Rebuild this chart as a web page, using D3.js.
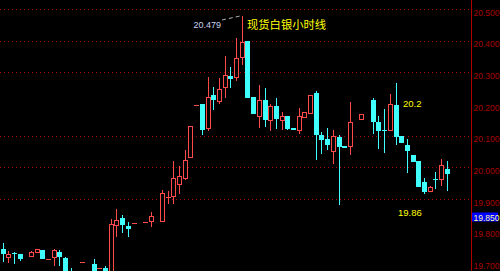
<!DOCTYPE html>
<html>
<head>
<meta charset="utf-8">
<script src="https://cdn.jsdelivr.net/npm/d3@7"></script>
<style>
  html, body { margin: 0; padding: 0; background: #000; overflow: hidden; }
  svg { display: block; }
</style>
</head>
<body>
<div class="kline"></div>
<script>
// hourly candles, null = bar not visible in the picture
const opens  = [19.742,19.717,19.731,19.727,null,19.721,19.732,19.739,19.710,19.717,
                19.733,19.714,19.660,19.650,19.701,19.660,19.695,19.681,19.682,19.650,
                19.818,19.840,19.815,19.823,null,19.827,19.831,null,19.831,19.905,
                19.910,19.947,19.966,20.033,20.196,20.200,20.124,20.228,20.210,20.254,
                20.288,20.285,20.348,20.399,20.222,20.162,20.213,20.150,20.194,20.150,
                20.162,20.124,20.118,20.158,20.171,20.235,20.102,20.090,20.052,20.096,
                20.067,20.067,null,20.152,null,20.213,20.143,20.118,20.118,20.197,
                20.099,20.071,20.039,20.020,19.954,19.925,19.964,19.963,19.995];
const highs  = [19.761,19.736,19.733,19.727,null,19.735,19.743,19.739,19.711,19.742,
                19.739,19.717,19.682,19.665,19.702,19.668,19.711,19.682,19.689,19.837,
                19.868,19.850,19.827,19.824,null,19.828,19.859,null,19.928,19.925,
                20.020,20.004,20.055,20.131,20.197,20.200,20.285,20.254,20.282,20.352,
                20.317,20.408,20.479,20.400,20.223,20.260,20.251,20.200,20.219,20.175,
                20.163,20.124,20.187,20.174,20.227,20.241,20.112,20.124,20.118,20.102,
                20.067,20.206,null,20.168,null,20.219,20.162,20.184,20.232,20.266,
                20.099,20.090,20.039,20.020,19.966,19.941,19.985,20.026,20.020];
const lows   = [19.701,19.698,19.695,19.704,null,19.720,19.731,19.710,19.710,19.689,
                19.689,19.640,19.630,19.640,19.701,19.640,19.645,19.681,19.655,19.645,
                19.780,19.793,19.780,19.823,null,19.827,19.812,null,19.831,19.884,
                19.884,19.916,19.960,20.033,20.196,20.102,20.115,20.181,20.200,20.219,
                20.251,20.273,20.323,20.218,20.167,20.124,20.127,20.115,20.121,20.118,
                20.118,20.118,20.105,20.158,20.171,20.023,20.042,20.055,20.011,19.881,
                20.061,20.039,null,20.152,null,20.105,20.058,20.045,20.117,20.071,
                20.077,19.982,20.017,19.938,19.916,19.925,19.932,19.941,19.925];
const closes = [19.726,19.726,19.729,19.711,null,19.734,19.742,19.711,19.711,19.739,
                19.717,19.650,19.640,19.660,19.702,19.650,19.650,19.682,19.660,19.821,
                19.834,19.818,19.805,19.824,null,19.828,19.846,null,19.919,19.906,
                19.966,19.973,20.023,20.131,20.197,20.118,20.222,20.213,20.247,20.292,
                20.279,20.345,20.396,20.219,20.168,20.213,20.150,20.194,20.153,20.162,
                20.121,20.118,20.162,20.174,20.227,20.102,20.086,20.071,20.099,20.064,
                20.061,20.143,null,20.168,null,20.143,20.115,20.117,20.200,20.096,
                20.077,20.052,20.017,19.938,19.922,19.938,19.962,20.007,19.979];

const tickValues = [20.5, 20.4, 20.3, 20.2, 20.1, 20.0, 19.9, 19.8, 19.7];
const gridValues = [20.5, 20.4, 20.3, 20.1, 20.0, 19.9];
const title = "现货白银小时线";
const highLabel = "20.479";
const noteHigh = "20.2";
const noteLow = "19.86";
const currentPrice = 19.850;

const width = 500, height = 271;
const upColor = "#ff4a4a", downColor = "#40ffff";
const axisX = 471;

const candles = opens.map((o, i) => ({i, o, h: highs[i], l: lows[i], c: closes[i]}))
    .filter(d => d.o !== null);

const svg = d3.select(".kline")
    .append("svg")
    .attr("width", width)
    .attr("height", height)
    .style("background", "#000");

const x = d3.scaleLinear().domain([0, opens.length - 1]).range([2.5, 446.8]);
const y = d3.scaleLinear().domain([19.7, 20.5]).range([262.4, 9]);

// dotted grid
svg.append("g")
    .selectAll("line")
    .data(gridValues)
    .join("line")
    .attr("x1", 0)
    .attr("x2", axisX - 1)
    .attr("y1", d => Math.round(y(d)) + 0.5)
    .attr("y2", d => Math.round(y(d)) + 0.5)
    .attr("stroke", "#a00000")
    .attr("stroke-width", 1)
    .attr("stroke-dasharray", "1,3");

// price axis on the right
const axis = svg.append("g")
    .attr("transform", `translate(${axisX + 0.5},0)`)
    .call(d3.axisRight(y).tickValues(tickValues).tickSize(0).tickPadding(2).tickFormat(d3.format(".3f")));
axis.select(".domain").attr("stroke", "#b00000").attr("d", `M0,0V${height}`);
axis.selectAll("text")
    .attr("fill", "#a80000")
    .attr("dy", "0.72em")
    .style("font-family", "Liberation Sans, Arial, sans-serif")
    .style("font-size", "8.5px");

const plot = svg.append("g").attr("shape-rendering", "crispEdges");

// wicks
plot.selectAll(".wick")
    .data(candles)
    .join("line")
    .attr("class", "wick")
    .attr("x1", d => Math.round(x(d.i)) + 0.5)
    .attr("x2", d => Math.round(x(d.i)) + 0.5)
    .attr("y1", d => y(d.h))
    .attr("y2", d => y(d.l))
    .attr("stroke", d => d.c >= d.o ? upColor : downColor)
    .attr("stroke-width", 1);

// falling candles: filled
plot.selectAll(".down")
    .data(candles.filter(d => d.c < d.o))
    .join("rect")
    .attr("class", "down")
    .attr("x", d => Math.round(x(d.i)) - 2)
    .attr("width", 5)
    .attr("y", d => y(d.o))
    .attr("height", d => Math.max(1, y(d.c) - y(d.o)))
    .attr("fill", downColor);

// rising candles: hollow, black inside hides the wick
plot.selectAll(".up")
    .data(candles.filter(d => d.c >= d.o))
    .join("rect")
    .attr("class", "up")
    .attr("x", d => Math.round(x(d.i)) - 1.5)
    .attr("width", 4)
    .attr("y", d => Math.round(y(d.c)) + 0.5)
    .attr("height", d => Math.max(0.01, Math.round(y(d.o)) - Math.round(y(d.c))))
    .attr("fill", "#000")
    .attr("stroke", upColor)
    .attr("stroke-width", 1);

// marker for the session high
const peak = candles.find(d => d.h === d3.max(highs));
svg.append("line")
    .attr("x1", 222).attr("y1", 20)
    .attr("x2", x(peak.i)).attr("y2", y(peak.h))
    .attr("stroke", "#b0b0b0")
    .attr("stroke-dasharray", "4,3");
svg.append("text")
    .attr("x", 221).attr("y", 27.5)
    .attr("text-anchor", "end")
    .attr("fill", "#c8d4f0")
    .style("font-family", "Liberation Sans, Arial, sans-serif")
    .style("font-size", "9px")
    .text(highLabel);

svg.append("text")
    .attr("x", 247).attr("y", 29)
    .attr("fill", "#ffff00")
    .style("font-family", "Noto Sans CJK SC, sans-serif")
    .style("font-size", "11.3px")
    .text(title);

svg.append("text")
    .attr("x", 403).attr("y", 107)
    .attr("fill", "#ffff00")
    .style("font-family", "Liberation Sans, Arial, sans-serif")
    .style("font-size", "9.5px")
    .text(noteHigh);

svg.append("text")
    .attr("x", 398).attr("y", 215.5)
    .attr("fill", "#ffff00")
    .style("font-family", "Liberation Sans, Arial, sans-serif")
    .style("font-size", "9.5px")
    .text(noteLow);

// current price tag
svg.append("rect")
    .attr("x", axisX + 1).attr("y", 212.5)
    .attr("width", 26).attr("height", 9)
    .attr("fill", "#0000ff");
svg.append("text")
    .attr("x", axisX + 2.5).attr("y", 220.5)
    .attr("fill", "#ffffa0")
    .style("font-family", "Liberation Sans, Arial, sans-serif")
    .style("font-size", "8.5px")
    .text(d3.format(".3f")(currentPrice));
</script>
</body>
</html>
